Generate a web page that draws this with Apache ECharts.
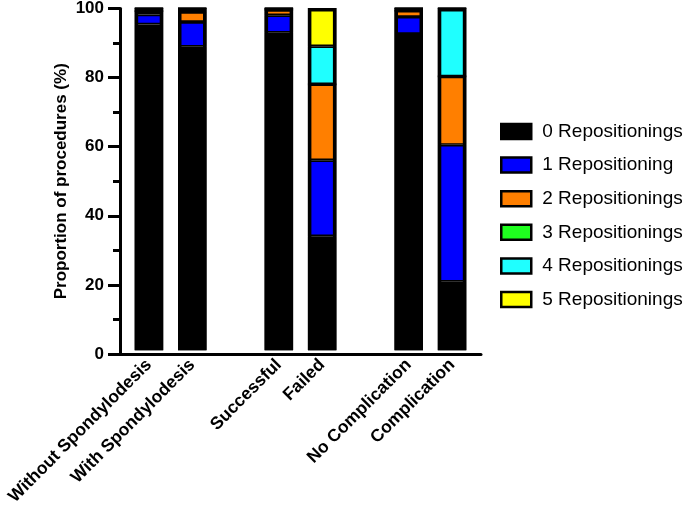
<!DOCTYPE html>
<html>
<head>
<meta charset="utf-8">
<script src="https://cdn.jsdelivr.net/npm/echarts@6/dist/echarts.min.js"></script>
<style>
  html, body { margin: 0; padding: 0; background: #fff; }
  #chart { width: 685px; height: 508px; }
</style>
</head>
<body>
<div id="chart"></div>
<script>
// groups, with an empty slot between each pair
var categories = ['Without Spondylodesis', 'With Spondylodesis', '', 'Successful', 'Failed', '', 'No Complication', 'Complication'];

var rep0 = [95.2, 88.7, null, 92.8, 33.3, null, 92.4, 20.0];
var rep1 = [2.9, 7.2, null, 5.1, 22.2, null, 5.0, 40.0];
var rep2 = [1.0, 2.9, null, 1.6, 22.2, null, 1.8, 20.0];
var rep3 = [0, 0.6, null, 0, 0, null, 0, 0];
var rep4 = [0.9, 0.6, null, 0.5, 11.1, null, 0.8, 20.0];
var rep5 = [0, 0, null, 0, 11.2, null, 0, 0];

var seriesNames = ['0 Repositionings', '1 Repositioning', '2 Repositionings', '3 Repositionings', '4 Repositionings', '5 Repositionings'];
var seriesData = [rep0, rep1, rep2, rep3, rep4, rep5];
var colorPalette = ['#000000', '#0000ff', '#ff7f00', '#1fff1f', '#1fffff', '#ffff00'];

var yTicks = [0, 20, 40, 60, 80, 100];

// bar totals, used for the heavy outline round each stacked bar
var totals = categories.map(function (c, j) {
  if (rep0[j] === null) return null;
  return seriesData.reduce(function (s, arr) { return s + arr[j]; }, 0);
});

var font = 'Arial, "Liberation Sans", sans-serif';
var chart = echarts.init(document.getElementById('chart'));

var series = seriesNames.map(function (name, i) {
  return {
    name: name,
    type: 'bar',
    stack: 'total',
    xAxisIndex: 0,
    yAxisIndex: 0,
    barWidth: 28.5,
    barGap: '-100%',
    data: seriesData[i],
    itemStyle: {
      color: colorPalette[i],
      borderColor: '#000',
      borderWidth: 1.7
    }
  };
});
series.push({
  name: 'outline',
  type: 'bar',
  stack: 'outline',
  xAxisIndex: 0,
  yAxisIndex: 0,
  barWidth: 28.5,
  barGap: '-100%',
  silent: true,
  z: 3,
  data: totals,
  itemStyle: {
    color: 'rgba(0,0,0,0)',
    borderColor: '#000',
    borderWidth: 3.5
  }
});

var option = {
  animation: false,
  backgroundColor: '#fff',
  textStyle: { fontFamily: font },
  legend: {
    orient: 'vertical',
    left: 500,
    top: 122,
    padding: 0,
    itemWidth: 30,
    itemHeight: 15,
    itemGap: 14.6,
    icon: 'rect',
    data: seriesNames,
    itemStyle: { borderWidth: 2.5, borderColor: '#000' },
    textStyle: {
      fontFamily: font,
      fontSize: 19,
      lineHeight: 19,
      color: '#000',
      padding: [0, 0, 0, 6]
    }
  },
  grid: [
    { left: 127.3, top: 8, width: 346.4, height: 346 },
    { left: 120, top: 8, width: 361, height: 346 }
  ],
  xAxis: [
    {
      type: 'category',
      gridIndex: 0,
      data: categories,
      axisLine: { show: false },
      axisTick: { show: false },
      axisLabel: {
        interval: 0,
        rotate: 45,
        margin: 12,
        fontFamily: font,
        fontWeight: 'bold',
        fontSize: 17.5,
        color: '#000'
      }
    },
    {
      type: 'value',
      gridIndex: 1,
      min: 0,
      max: 1,
      axisLine: { show: true, onZero: false, lineStyle: { color: '#000', width: 3 } },
      axisTick: { show: false },
      axisLabel: { show: false },
      splitLine: { show: false }
    }
  ],
  yAxis: [
    {
      type: 'value',
      gridIndex: 0,
      min: 0,
      max: 100,
      show: false
    },
    {
      type: 'value',
      gridIndex: 1,
      min: yTicks[0],
      max: yTicks[yTicks.length - 1],
      interval: 20,
      name: 'Proportion of procedures (%)',
      nameLocation: 'middle',
      nameGap: 50,
      nameMoveOverlap: false,
      nameTextStyle: {
        fontFamily: font,
        fontWeight: 'bold',
        fontSize: 17,
        color: '#000'
      },
      axisLine: { show: true, onZero: false, lineStyle: { color: '#000', width: 3 } },
      axisTick: { show: true, length: 12, lineStyle: { color: '#000', width: 3 } },
      minorTick: { show: true, splitNumber: 2, length: 7, lineStyle: { color: '#000', width: 3 } },
      axisLabel: {
        margin: 16,
        fontFamily: font,
        fontWeight: 'bold',
        fontSize: 17,
        color: '#000'
      },
      splitLine: { show: false }
    }
  ],
  series: series
};

chart.setOption(option);
</script>
</body>
</html>
